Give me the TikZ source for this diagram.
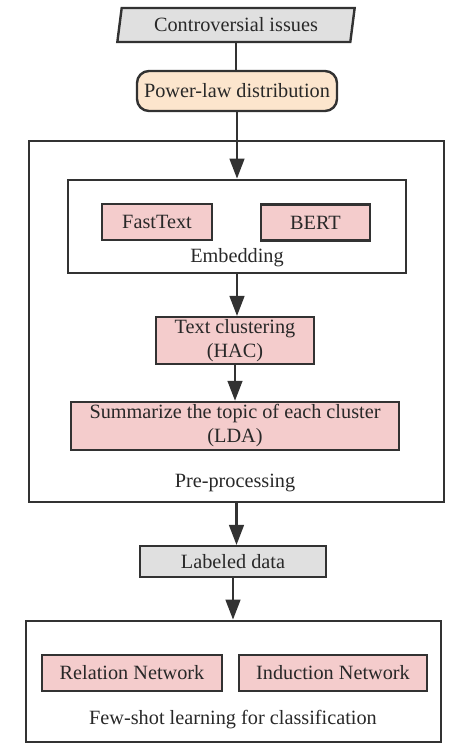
\documentclass[tikz,border=0pt]{standalone}
\usepackage{fontspec}
\setmainfont{Liberation Serif}
\usepackage{tikz}
\usetikzlibrary{shapes.geometric,arrows.meta}

\definecolor{boxline}{RGB}{50,50,50}
\definecolor{boxtext}{RGB}{40,40,40}
\definecolor{grayfill}{RGB}{224,224,224}
\definecolor{pinkfill}{RGB}{244,204,204}
\definecolor{peachfill}{RGB}{252,229,205}

\tikzset{
  flowbox/.style={draw=boxline, line width=1.8pt, inner sep=0pt, align=center, text=boxtext, font=\fontsize{15.2}{18}\selectfont},
  pinkbox/.style={flowbox, fill=pinkfill},
  framebox/.style={draw=boxline, line width=1.8pt, inner sep=0pt},
  framelabel/.style={inner sep=0.75pt, text=boxtext, font=\fontsize{15.2}{18}\selectfont},
  flowarrow/.style={draw=boxline, line width=1.8pt, -{Triangle[length=15pt,width=11pt]}},
}

\begin{document}
\begin{tikzpicture}[x=0.75pt,y=0.75pt,yscale=-1,xscale=1]
    \useasboundingbox (0,0) rectangle (474,747);

    %Shape: Parallelogram [id:issues]
    \node [flowbox, fill=grayfill, trapezium, trapezium left angle=73, trapezium right angle=107, trapezium stretches body, minimum width=178pt, minimum height=25.5pt] (issues) at (236,25) {Controversial issues};
    %Shape: Rounded Rectangle [id:power]
    \node [flowbox, fill=peachfill, rounded corners=9pt, minimum width=150pt, minimum height=30pt] (power) at (237,91) {Power-law distribution};

    %Shape: Rectangle [id:preproc]
    \node [framebox, minimum width=311pt, minimum height=271pt] (preproc) at (236.5,321.5) {};
    %Shape: Rectangle [id:embed]
    \node [framebox, minimum width=253.5pt, minimum height=70pt] (embed) at (237,226.5) {};
    %Shape: Rectangle [id:fasttext]
    \node [pinkbox, minimum width=82.5pt, minimum height=27pt] (fasttext) at (157,222) {FastText};
    %Shape: Rectangle [id:bert]
    \node [pinkbox, minimum width=82pt, minimum height=27pt] (bert) at (315.5,222.5) {BERT};
    %Shape: Rectangle [id:cluster]
    \node [pinkbox, minimum width=118.5pt, minimum height=35pt] (cluster) at (235,340.5) {Text clustering\\(HAC)};
    %Shape: Rectangle [id:summ]
    \node [pinkbox, minimum width=246pt, minimum height=36pt] (summ) at (235,426) {Summarize the topic of each cluster\\(LDA)};

    %Shape: Rectangle [id:labeled]
    \node [flowbox, fill=grayfill, minimum width=139.5pt, minimum height=23pt] (labeled) at (233,561.5) {Labeled data};

    %Shape: Rectangle [id:fewshot]
    \node [framebox, minimum width=311pt, minimum height=91pt] (fewshot) at (233.5,681.5) {};
    %Shape: Rectangle [id:relation]
    \node [pinkbox, minimum width=135pt, minimum height=27pt] (relation) at (132,673) {Relation Network};
    %Shape: Rectangle [id:induction]
    \node [pinkbox, minimum width=141pt, minimum height=27pt] (induction) at (333,673) {Induction Network};

    % Text Node
    \node [framelabel] (embedlabel) at (237,258) {Embedding};
    % Text Node
    \node [framelabel] (preproclabel) at (235,483) {Pre-processing};
    % Text Node
    \node [framelabel] (fewshotlabel) at (233,720) {Few-shot learning for classification};

    %Straight Lines
    \draw [draw=boxline, line width=1.8pt] (issues.south) -- (issues.south |- power.north);
    \draw [flowarrow] (power.south) -- (power.south |- embed.north);
    \draw [flowarrow] (embed.south) -- (embed.south |- cluster.north);
    \draw [flowarrow] (cluster.south) -- (cluster.south |- summ.north);
    \draw [flowarrow] (preproc.south) -- (preproc.south |- labeled.north);
    \draw [flowarrow] (labeled.south) -- (labeled.south |- fewshot.north);

\end{tikzpicture}
\end{document}
